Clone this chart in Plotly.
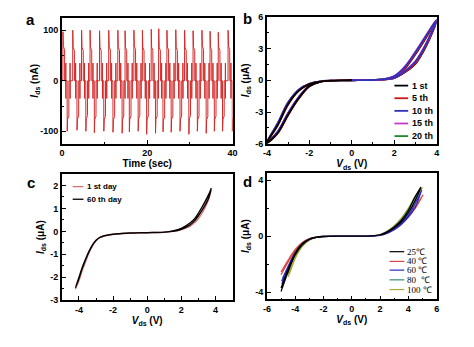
import plotly.graph_objects as go

# ---------------- Panel a: pulse response ----------------
a_cycle_start = [0.23, 2.53, 4.6, 6.59, 8.81, 10.96, 13.1, 14.79, 16.86, 18.85,
                 20.92, 22.68, 24.6, 26.67, 28.74, 30.73, 32.8, 34.71, 36.63, 38.93]
a_pos_peak = [97, 100, 100, 100, 99, 100, 100, 99, 100, 100, 102, 103, 100, 101, 100, 99, 100, 98, 96, 100]
a_neg_peak = [-100, -98, -100, -103, -100, -102, -104, -101, -100, -106,
              -104, -101, -102, -100, -106, -100, -104, -100, -100, -100]
a_pos_plateau = [62, 60, 60, 60, 60, 61, 60, 60, 62, 60, 60, 60, 61, 60, 60, 60, 62, 60, 60, 62]
a_neg_plateau = [-70, -70, -69, -70, -70, -71, -70, -70, -69, -70, -70, -72, -70, -70, -69, -70, -71, -70, -70, -70]
a_read_hi = 35
a_read_lo = -35
# waveform template of one cycle (time offset in s, which level)
a_tmpl_t = [0.0, 0.02, 0.12, 0.40, 0.42, 0.68, 0.69, 0.70, 0.71, 1.0, 1.02, 1.12, 1.40, 1.42, 1.68, 1.69, 1.70, 1.71]
a_tmpl_k = ["z", "P", "p1", "p", "z", "z", "rh", "rl", "z", "z", "N", "n1", "n", "z", "z", "rh", "rl", "z"]

# ---------------- Panel b: cycling I-V ----------------
b_V = [0, 0.5, 1, 1.5, 2, 2.5, 3, 3.5, 4, 3.5, 3, 2.5, 2, 1.5, 1, 0.5, 0,
       -0.5, -1, -1.5, -2, -2.5, -3, -3.5, -4, -3.5, -3, -2.5, -2, -1.5, -1, -0.5, 0]
b_names = ["1 st", "5 th", "10 th", "15 th", "20 th"]
b_I_1 = [0, 0.01, 0.02, 0.07, 0.20, 0.75, 1.55, 3.20, 5.60, 4.00, 2.45, 1.10, 0.32, 0.09, 0.03, 0.01, 0,
         -0.01, -0.04, -0.12, -0.36, -0.98, -2.25, -4.25, -5.90, -5.00, -3.25, -1.70, -0.57, -0.15, -0.05, -0.01, 0]
b_I_5 = [0, 0.01, 0.02, 0.07, 0.21, 0.78, 1.60, 3.25, 5.62, 4.05, 2.50, 1.15, 0.33, 0.09, 0.03, 0.01, 0,
         -0.01, -0.04, -0.12, -0.37, -1.00, -2.30, -4.30, -5.92, -5.05, -3.30, -1.75, -0.58, -0.15, -0.05, -0.01, 0]
b_I_10 = [0, 0.01, 0.02, 0.08, 0.24, 0.85, 1.75, 3.40, 5.70, 4.20, 2.65, 1.25, 0.38, 0.10, 0.03, 0.01, 0,
          -0.01, -0.04, -0.12, -0.33, -0.88, -2.08, -4.08, -5.85, -4.85, -3.08, -1.58, -0.51, -0.14, -0.05, -0.01, 0]
b_I_15 = [0, 0.01, 0.02, 0.08, 0.25, 0.88, 1.80, 3.45, 5.72, 4.22, 2.68, 1.28, 0.39, 0.10, 0.03, 0.01, 0,
          -0.01, -0.04, -0.12, -0.33, -0.88, -2.10, -4.10, -5.86, -4.88, -3.10, -1.60, -0.52, -0.14, -0.05, -0.01, 0]
b_I_20 = [0, 0.01, 0.02, 0.08, 0.23, 0.82, 1.70, 3.35, 5.66, 4.12, 2.58, 1.20, 0.36, 0.10, 0.03, 0.01, 0,
          -0.01, -0.04, -0.12, -0.34, -0.92, -2.15, -4.15, -5.88, -4.90, -3.15, -1.62, -0.54, -0.14, -0.05, -0.01, 0]
b_colors = ["#000000", "#c81818", "#3030b8", "#c838c8", "#1e8a2e"]

# ---------------- Panel c: stability ----------------
c_V = [-4.2, -4.0, -3.8, -3.6, -3.4, -3.2, -3.0, -2.8, -2.5, -2.0, -1.5, -1.0, 0.0,
       1.0, 1.5, 2.0, 2.5, 2.8, 3.0, 3.2, 3.4, 3.6, 3.75]
c_names = ["1 st day", "60 th day"]
c_day1_fwd = [-2.50, -2.15, -1.70, -1.30, -0.92, -0.62, -0.41, -0.29, -0.20, -0.13, -0.10, -0.08, -0.06,
              -0.04, 0.00, 0.08, 0.22, 0.40, 0.56, 0.78, 1.05, 1.40, 1.80]
c_day1_ret = [-2.50, -2.10, -1.62, -1.25, -0.90, -0.60, -0.40, -0.28, -0.19, -0.12, -0.09, -0.07, -0.05,
              -0.03, 0.01, 0.11, 0.30, 0.50, 0.70, 0.95, 1.25, 1.60, 1.80]
c_day60_fwd = [-2.45, -2.05, -1.60, -1.22, -0.88, -0.60, -0.40, -0.28, -0.20, -0.13, -0.10, -0.08, -0.06,
               -0.03, 0.02, 0.13, 0.36, 0.58, 0.80, 1.05, 1.32, 1.60, 1.88]
c_day60_ret = [-2.45, -2.00, -1.55, -1.18, -0.85, -0.58, -0.39, -0.27, -0.19, -0.12, -0.09, -0.07, -0.05,
               -0.03, 0.00, 0.09, 0.28, 0.48, 0.68, 0.90, 1.15, 1.45, 1.88]
c_colors = ["#d87070", "#000000"]

# ---------------- Panel d: temperature ----------------
d_names = ["25℃", "40 ℃", "60 ℃", "80  ℃", "100 ℃"]
d_colors = ["#000000", "#e04848", "#2a2ac0", "#3a8f7a", "#a8a838"]
d_V_25 = [-5.0, -4.5, -4, -3.5, -3, -2.5, -2, -1, 0, 1, 2, 2.5, 3, 3.5, 4, 4.5, 4.9]
d_I_25_f = [-3.95, -2.55, -1.35, -0.62, -0.24, -0.09, -0.03, 0, 0, 0, 0.08, 0.27, 0.58, 1.00, 1.65, 2.55, 3.50]
d_I_25_r = [-3.70, -2.35, -1.20, -0.52, -0.20, -0.07, -0.02, 0, 0, 0, 0.10, 0.32, 0.66, 1.12, 1.85, 2.85, 3.50]
d_V_40 = [-5.0, -4.5, -4, -3.5, -3, -2.5, -2, -1, 0, 1, 2, 2.5, 3, 3.5, 4, 4.5, 5.05]
d_I_40_f = [-2.75, -1.85, -1.05, -0.50, -0.20, -0.07, -0.02, 0, 0, 0, 0.07, 0.22, 0.48, 0.85, 1.35, 2.00, 2.95]
d_I_40_r = [-2.55, -1.70, -0.95, -0.45, -0.18, -0.06, -0.02, 0, 0, 0, 0.08, 0.25, 0.52, 0.92, 1.45, 2.15, 2.95]
d_V_60 = [-4.95, -4.5, -4, -3.5, -3, -2.5, -2, -1, 0, 1, 2, 2.5, 3, 3.5, 4, 4.5, 4.95]
d_I_60_f = [-3.40, -2.30, -1.25, -0.60, -0.24, -0.09, -0.03, 0, 0, 0, 0.06, 0.20, 0.45, 0.82, 1.35, 2.10, 3.30]
d_I_60_r = [-3.20, -2.15, -1.15, -0.55, -0.21, -0.08, -0.02, 0, 0, 0, 0.07, 0.24, 0.50, 0.90, 1.50, 2.35, 3.30]
d_V_80 = [-4.9, -4.5, -4, -3.5, -3, -2.5, -2, -1, 0, 1, 2, 2.5, 3, 3.5, 4, 4.5, 4.85]
d_I_80_f = [-3.20, -2.35, -1.30, -0.62, -0.25, -0.09, -0.03, 0, 0, 0, 0.09, 0.30, 0.62, 1.05, 1.70, 2.60, 3.45]
d_I_80_r = [-3.00, -2.20, -1.20, -0.56, -0.22, -0.08, -0.02, 0, 0, 0, 0.10, 0.33, 0.68, 1.15, 1.85, 2.80, 3.45]
d_V_100 = [-4.5, -4.3, -4, -3.5, -3, -2.5, -2, -1, 0, 1, 2, 2.5, 3, 3.5, 4, 4.5, 5.0]
d_I_100_f = [-2.90, -2.40, -1.60, -0.75, -0.30, -0.10, -0.03, 0, 0, 0, 0.10, 0.33, 0.70, 1.20, 1.90, 2.70, 3.45]
d_I_100_r = [-2.70, -2.25, -1.50, -0.70, -0.27, -0.09, -0.02, 0, 0, 0, 0.11, 0.36, 0.75, 1.28, 2.00, 2.85, 3.45]

W, H = 474, 347
def PX(x):
    return x / W
def PY(y):
    return 1 - y / H

fig = go.Figure()

# ---- panel a traces
a_t, a_I = [], []
for k, t0 in enumerate(a_cycle_start):
    lvl = {"z": 0, "P": a_pos_peak[k], "p": a_pos_plateau[k], "p1": a_pos_plateau[k] + 6,
           "N": a_neg_peak[k], "n": a_neg_plateau[k], "n1": a_neg_plateau[k] - 6,
           "rh": a_read_hi, "rl": a_read_lo}
    for dt, key in zip(a_tmpl_t, a_tmpl_k):
        a_t.append(t0 + dt)
        a_I.append(lvl[key])
fig.add_trace(go.Scatter(x=[0] + a_t, y=[0] + a_I, mode="lines", line=dict(color="#d42a2a", width=1),
                         xaxis="x", yaxis="y", showlegend=False))

# ---- panel b traces: positive-bias half (blue/magenta on top), negative-bias half (black/red on top)
b_series = [b_I_1, b_I_5, b_I_10, b_I_15, b_I_20]
half = b_V.index(0, 1)  # end of the positive-bias part of the loop
for part, order in [("pos", [4, 0, 1, 3, 2]), ("neg", [4, 3, 2, 1, 0])]:
    for idx in order:
        if part == "pos":
            xs, ys = b_V[:half + 1], b_series[idx][:half + 1]
        else:
            xs, ys = b_V[half:], b_series[idx][half:]
        fig.add_trace(go.Scatter(x=xs, y=ys, mode="lines",
                                 line=dict(color=b_colors[idx], width=1.8, shape="spline"),
                                 xaxis="x2", yaxis="y2", showlegend=False, name=b_names[idx]))

# ---- panel c traces
c_series = [(c_day1_fwd, c_day1_ret), (c_day60_fwd, c_day60_ret)]
for idx in [0, 1]:
    f, r = c_series[idx]
    fig.add_trace(go.Scatter(x=c_V + c_V[::-1], y=f + r[::-1], mode="lines",
                             line=dict(color=c_colors[idx], width=1.3, shape="spline"),
                             xaxis="x3", yaxis="y3", showlegend=False, name=c_names[idx]))

# ---- panel d traces
d_series = [(d_V_25, d_I_25_f, d_I_25_r), (d_V_40, d_I_40_f, d_I_40_r), (d_V_60, d_I_60_f, d_I_60_r),
            (d_V_80, d_I_80_f, d_I_80_r), (d_V_100, d_I_100_f, d_I_100_r)]
for idx in [4, 3, 1, 2, 0]:
    V, f, r = d_series[idx]
    fig.add_trace(go.Scatter(x=V + V[::-1], y=f + r[::-1], mode="lines",
                             line=dict(color=d_colors[idx], width=1.2, shape="spline"),
                             xaxis="x4", yaxis="y4", showlegend=False, name=d_names[idx]))

tickfont = dict(family="Liberation Sans, Arial", size=9, color="black", weight="bold")
titlefont = dict(family="Liberation Sans, Arial", size=10, color="black", weight="bold")

def ax(domain, rng, tv, anchor, title, minor_dtick, standoff):
    return dict(domain=domain, range=rng, tickvals=tv, ticktext=[str(v) for v in tv],
                ticks="inside", ticklen=4, tickwidth=1, tickcolor="black",
                minor=dict(ticks="inside", ticklen=2, dtick=minor_dtick, tickcolor="black", showgrid=False),
                showline=True, linecolor="black", linewidth=1.5, mirror=True,
                showgrid=False, zeroline=False, anchor=anchor, tickfont=tickfont,
                title=dict(text=title, font=titlefont, standoff=standoff))

I_nA = "<i>I</i><sub>ds</sub> (nA)"
I_uA = "<i>I</i><sub>ds</sub> (μA)"
V_t = "<i>V</i><sub>ds</sub> (V)"

xa = [PX(59), PX(233)]
xb = [PX(268), PX(441)]
ya = [PY(143), PY(13)]
yb = [PY(143), PY(12)]
yc = [PY(304), PY(174)]
yd = [PY(303), PY(173)]

fig.update_layout(
    width=W, height=H, margin=dict(l=0, r=0, t=0, b=0),
    paper_bgcolor="white", plot_bgcolor="white", showlegend=False,
    xaxis=ax(xa, [0, 40], [0, 20, 40], "y", "Time (sec)", 10, 2),
    yaxis=ax(ya, [-125, 125], [-100, 0, 100], "x", I_nA, 50, 0),
    xaxis2=ax(xb, [-4, 4], [-4, -2, 0, 2, 4], "y2", V_t, 1, 2),
    yaxis2=ax(yb, [-6, 6], [-6, -3, 0, 3, 6], "x2", I_uA, 1.5, 4),
    xaxis3=ax(xa, [-5, 5], [-4, -2, 0, 2, 4], "y3", V_t, 1, 2),
    yaxis3=ax(yc, [-3, 2.5], [-3, -2, -1, 0, 1, 2], "x3", I_uA, 0.5, 4),
    xaxis4=ax(xb, [-6, 6], [-6, -4, -2, 0, 2, 4, 6], "y4", V_t, 1, 2),
    yaxis4=ax(yd, [-4.5, 4.5], [-4, 0, 4], "x4", I_uA, 2, 4),
)

shapes, annos = [], []
# panel labels
for lab, x, y in [("a", 27, 15), ("b", 248, 14), ("c", 28, 183), ("d", 248, 182)]:
    annos.append(dict(text=lab, x=PX(x), y=PY(y), xref="paper", yref="paper", showarrow=False,
                      xanchor="center", yanchor="middle",
                      font=dict(family="Liberation Sans, Arial", size=15, color="black", weight="bold")))

# legend b
b_leg_y = [83, 96, 109, 122, 135]
for i in range(5):
    shapes.append(dict(type="line", xref="paper", yref="paper", x0=PX(398), x1=PX(412),
                       y0=PY(b_leg_y[i]), y1=PY(b_leg_y[i]), line=dict(color=b_colors[i], width=1.8)))
    annos.append(dict(text=b_names[i], x=PX(414), y=PY(b_leg_y[i]), xref="paper", yref="paper", showarrow=False,
                      xanchor="left", yanchor="middle",
                      font=dict(family="Liberation Sans, Arial", size=9, color="black", weight="bold")))
# legend c
c_leg_y = [187, 200]
for i in range(2):
    shapes.append(dict(type="line", xref="paper", yref="paper", x0=PX(70), x1=PX(81),
                       y0=PY(c_leg_y[i]), y1=PY(c_leg_y[i]), line=dict(color=c_colors[i], width=1.3)))
    annos.append(dict(text=c_names[i], x=PX(83), y=PY(c_leg_y[i]), xref="paper", yref="paper", showarrow=False,
                      xanchor="left", yanchor="middle",
                      font=dict(family="Liberation Sans, Arial", size=8, color="black", weight="bold")))
# legend d
d_leg_y = [254, 264, 273, 283, 293]
for i in range(5):
    shapes.append(dict(type="line", xref="paper", yref="paper", x0=PX(393), x1=PX(408),
                       y0=PY(d_leg_y[i]), y1=PY(d_leg_y[i]), line=dict(color=d_colors[i], width=1.2)))
    annos.append(dict(text=d_names[i], x=PX(409), y=PY(d_leg_y[i]), xref="paper", yref="paper", showarrow=False,
                      xanchor="left", yanchor="middle",
                      font=dict(family="Liberation Serif, Times New Roman", size=9, color="black")))

fig.update_layout(shapes=shapes, annotations=annos)
fig.write_html("out.html")
